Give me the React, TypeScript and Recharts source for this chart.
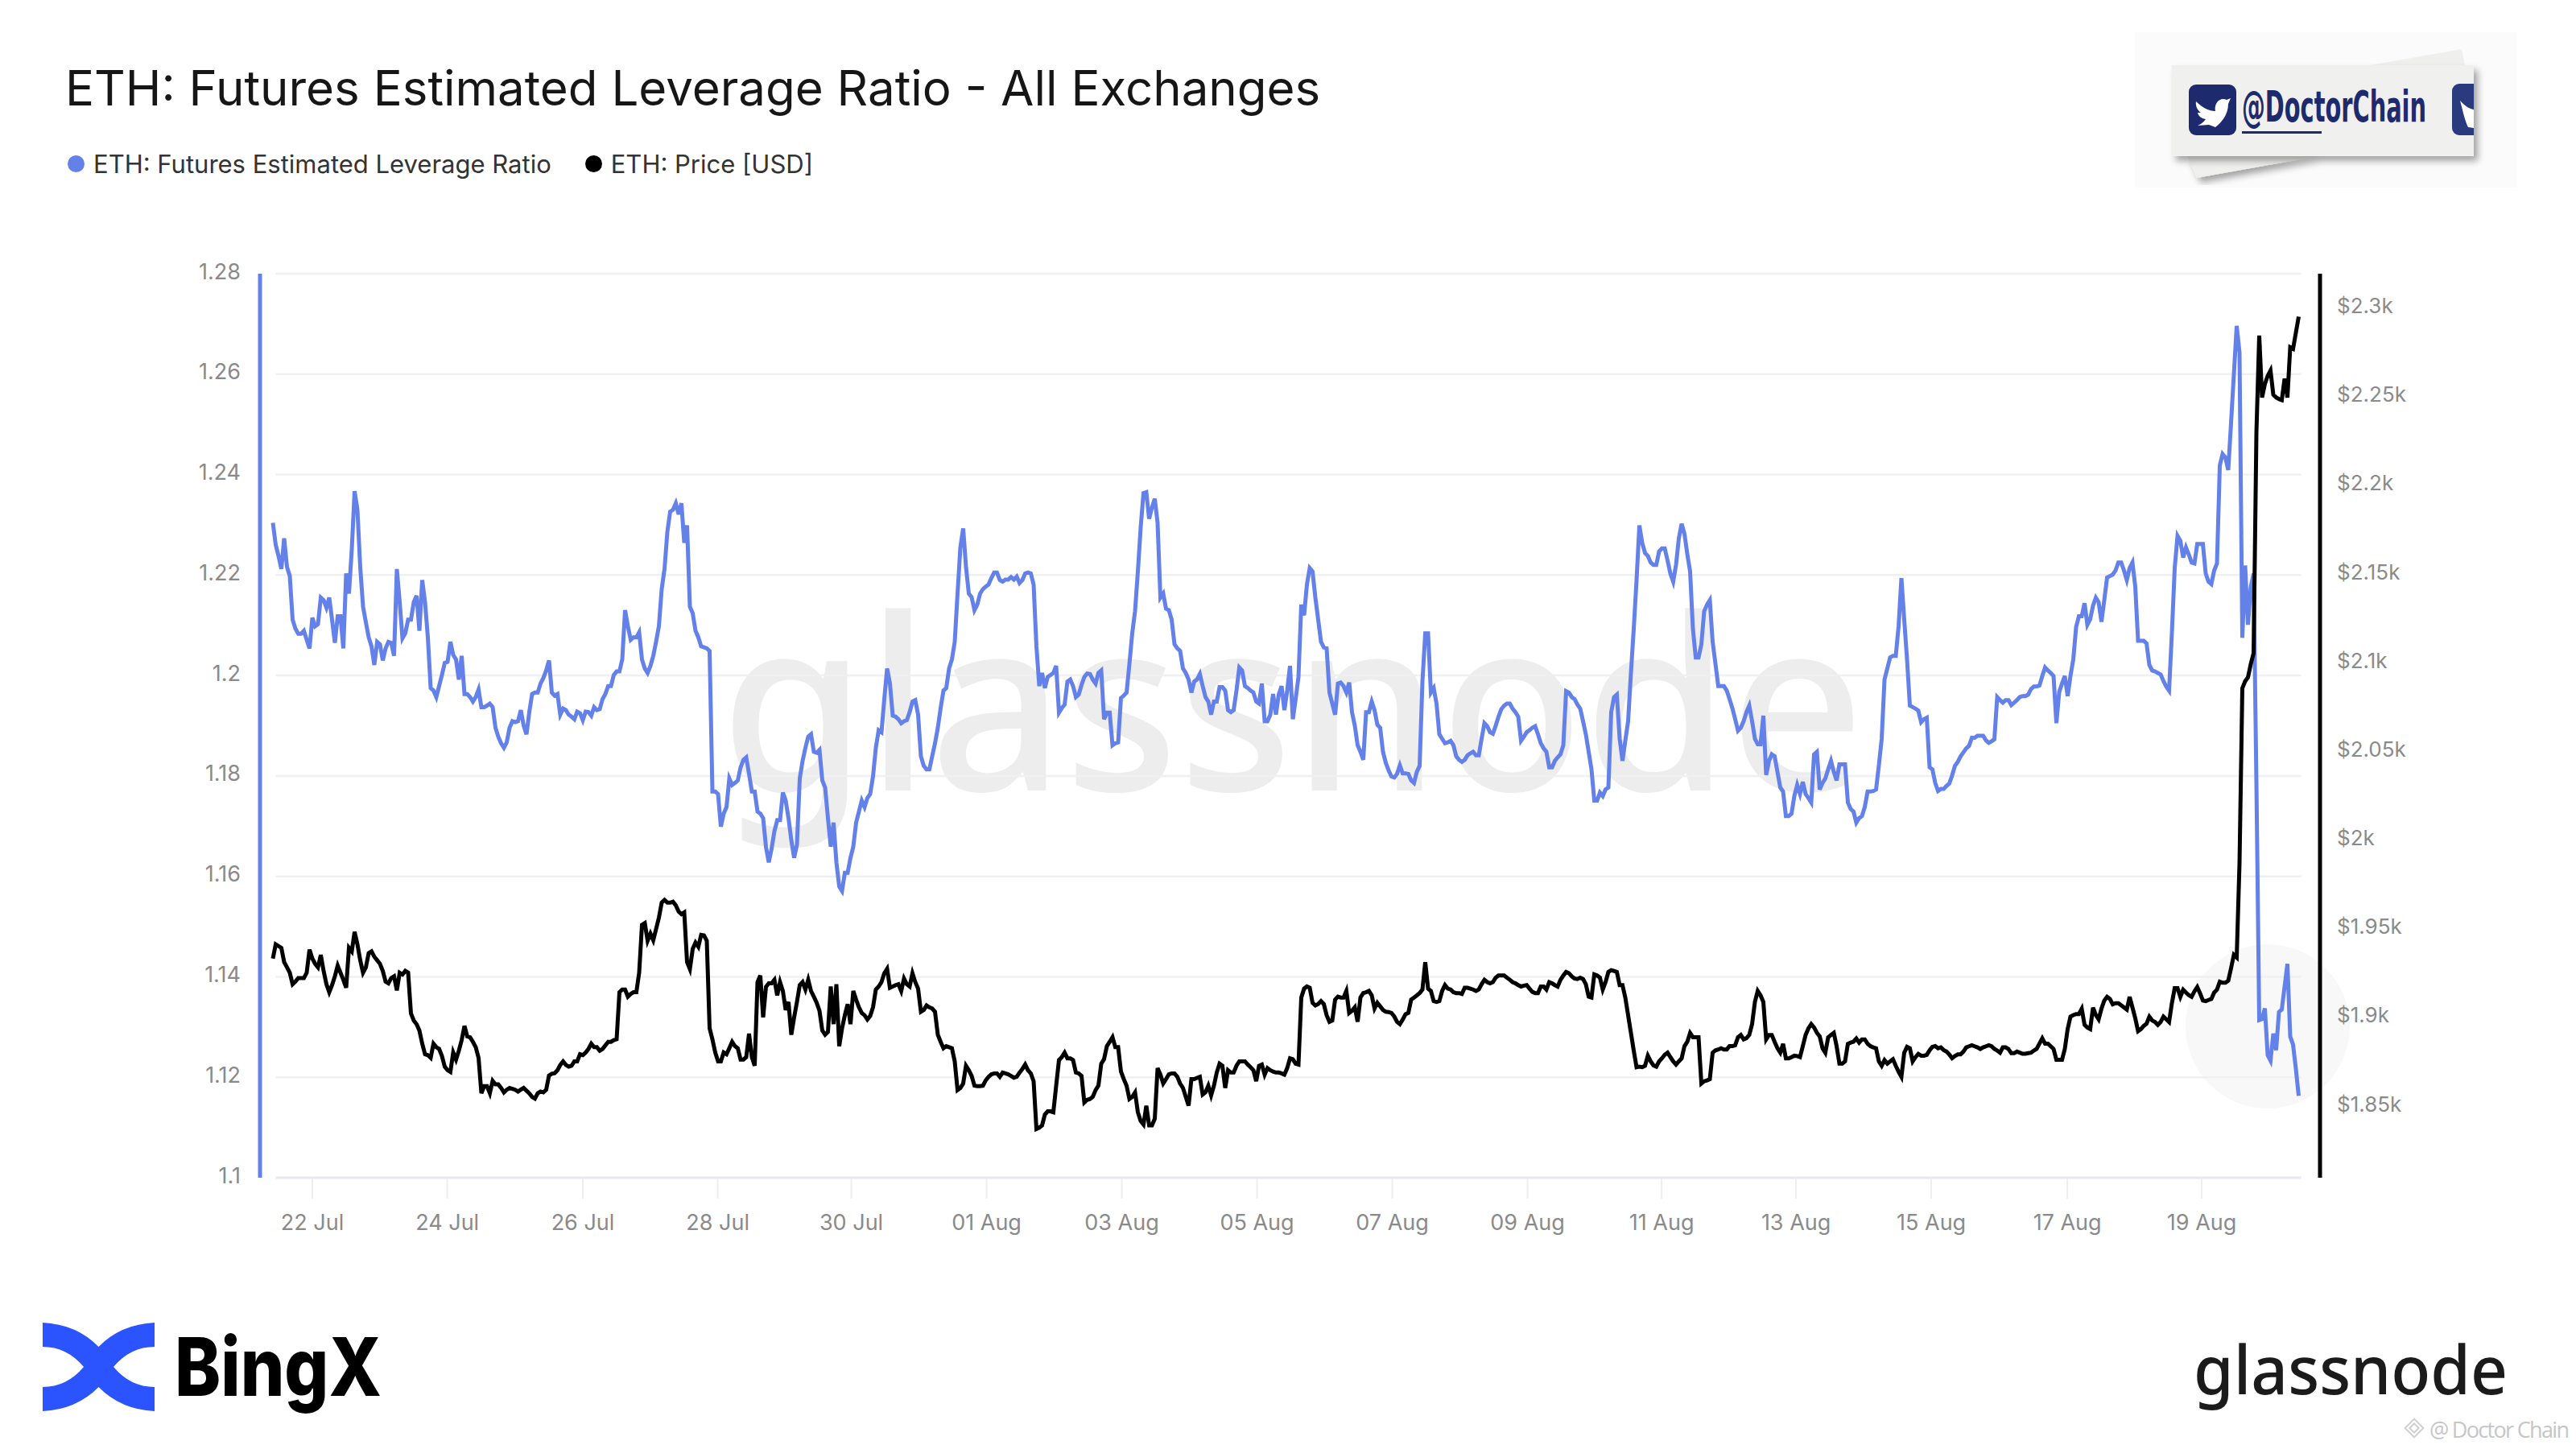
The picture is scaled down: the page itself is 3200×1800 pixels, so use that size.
import { LineChart, Line, XAxis, YAxis, ReferenceLine, Legend } from 'recharts';

// [hours since 22 Jul 00:00, value]
const leverageJul: [number, number][] = [
  [-14,1.2304],[-13,1.2260],[-12,1.2238],[-11,1.2212],[-10,1.2273],[-9,1.2216],[-8,1.2198],[-7,1.2111],[-6,1.2093],[-5,1.2083],
  [-4,1.2083],[-3,1.2089],[-2,1.2071],[-1,1.2054],[0,1.2115],[1,1.2098],[2,1.2102],[3,1.2155],[4,1.2150],[5,1.2135],
  [6,1.2155],[7,1.2111],[8,1.2065],[9,1.2118],[10,1.2118],[11,1.2054],[12,1.2203],[13,1.2163],[14,1.2251],[15,1.2367],
  [16,1.2330],[17,1.2216],[18,1.2137],[19,1.2106],[20,1.2076],[21,1.2058],[22,1.2021],[23,1.2067],[24,1.2062],[25,1.2030],
  [26,1.2054],[27,1.2067],[28,1.2065],[29,1.2039],[30,1.2212],[31,1.2146],[32,1.2074],[33,1.2084],[34,1.2111],[35,1.2111],
  [36,1.2146],[37,1.2159],[38,1.2089],[39,1.2190],[40,1.2146],[41,1.2076],[42,1.1975],[43,1.1970],[44,1.1957],[45,1.1979],
  [46,1.2001],[47,1.2025],[48,1.2027],[49,1.2067],[50,1.2041],[51,1.2032],[52,1.1992],[53,1.2039],[54,1.1963],[55,1.1963],
  [56,1.1957],[57,1.1948],[58,1.1957],[59,1.1972],[60,1.1937],[61,1.1937],[62,1.1940],[63,1.1944],[64,1.1937],[65,1.1896],
  [66,1.1878],[67,1.1865],[68,1.1856],[69,1.1867],[70,1.1896],[71,1.1909],[72,1.1907],[73,1.1909],[74,1.1931],[75,1.1900],
  [76,1.1883],[77,1.1927],[78,1.1963],[79,1.1966],[80,1.1966],[81,1.1984],[82,1.1995],[83,1.2010],[84,1.2030],[85,1.1966],
  [86,1.1960],[87,1.1963],[88,1.1922],[89,1.1934],[90,1.1931],[91,1.1922],[92,1.1918],[93,1.1913],[94,1.1928],[95,1.1925],
  [96,1.1911],[97,1.1928],[98,1.1927],[99,1.1920],[100,1.1937],[101,1.1931],[102,1.1933],[103,1.1953],[104,1.1963],[105,1.1979],
  [106,1.1979],[107,1.2001],[108,1.2008],[109,1.2008],[110,1.2032],[111,1.2130],[112,1.2098],[113,1.2071],[114,1.2076],[115,1.2076],
  [116,1.2086],[117,1.2032],[118,1.2014],[119,1.2005],[120,1.2019],[121,1.2039],[122,1.2067],[123,1.2098],[124,1.2172],[125,1.2212],
  [126,1.2286],[127,1.2326],[128,1.2330],[129,1.2343],[130,1.2321],[131,1.2343],[132,1.2264],[133,1.2299],[134,1.2137],[135,1.2124],
  [136,1.2089],[137,1.2076],[138,1.2058],[139,1.2056],[140,1.2054],[141,1.2049],[142,1.1769],[143,1.1769],[144,1.1764],[145,1.1699],
  [146,1.1725],[147,1.1738],[148,1.1795],[149,1.1782],[150,1.1786],[151,1.1791],[152,1.1817],[153,1.1832],[154,1.1837],[155,1.1804],
  [156,1.1769],[157,1.1769],[158,1.1729],[159,1.1725],[160,1.1716],[161,1.1659],[162,1.1628],[163,1.1655],[164,1.1690],[165,1.1712],
  [166,1.1712],[167,1.1767],[168,1.1751],[169,1.1716],[170,1.1672],[171,1.1637],[172,1.1663],[173,1.1795],[174,1.1830],[175,1.1856],
  [176,1.1878],[177,1.1883],[178,1.1848],[179,1.1846],[180,1.1852],[181,1.1791],[182,1.1777],[183,1.1716],[184,1.1659],[185,1.1707],
  [186,1.1628],[187,1.1580],[188,1.1571],[189,1.1607],[190,1.1607],[191,1.1637],[192,1.1659],[193,1.1707],[194,1.1729],[195,1.1751],
  [196,1.1738],[197,1.1756],[198,1.1764],[199,1.1799],[200,1.1856],[201,1.1891],[202,1.1887],[203,1.1953],[204,1.2014],[205,1.1984],
  [206,1.1920],[207,1.1918],[208,1.1913],[209,1.1905],[210,1.1909],[211,1.1911],[212,1.1927],[213,1.1948],[214,1.1951],[215,1.1922],
  [216,1.1839],[217,1.1820],[218,1.1813],[219,1.1813],[220,1.1839],[221,1.1865],[222,1.1896],[223,1.1935],[224,1.1970],[225,1.1975],
  [226,1.2014],[227,1.2032],[228,1.2067],[229,1.2163],[230,1.2255],[231,1.2293],[232,1.2216],[233,1.2163],[234,1.2156],[235,1.2130],
  [236,1.2141],[237,1.2163],[238,1.2172],[239,1.2177],
];

const leverageAugEarly: [number, number][] = [
  [240,1.2181],[241,1.2194],[242,1.2205],[243,1.2205],[244,1.2190],[245,1.2187],[246,1.2191],[247,1.2191],[248,1.2196],[249,1.2191],
  [250,1.2197],[251,1.2184],[252,1.2190],[253,1.2203],[254,1.2205],[255,1.2203],[256,1.2181],[257,1.2058],[258,1.1979],[259,1.2005],
  [260,1.1975],[261,1.1997],[262,1.2001],[263,1.2005],[264,1.2019],[265,1.1926],[266,1.1935],[267,1.1942],[268,1.1988],[269,1.1992],
  [270,1.1979],[271,1.1957],[272,1.1962],[273,1.1981],[274,1.1997],[275,1.2004],[276,1.2003],[277,1.1992],[278,1.1984],[279,1.2005],
  [280,1.2010],[281,1.1913],[282,1.1926],[283,1.1926],[284,1.1861],[285,1.1865],[286,1.1867],[287,1.1955],[288,1.1960],[289,1.1966],
  [290,1.2023],[291,1.2084],[292,1.2128],[293,1.2207],[294,1.2295],[295,1.2363],[296,1.2365],[297,1.2312],[298,1.2334],[299,1.2352],
  [300,1.2304],[301,1.2155],[302,1.2163],[303,1.2133],[304,1.2130],[305,1.2111],[306,1.2062],[307,1.2054],[308,1.2049],[309,1.2014],
  [310,1.2005],[311,1.1992],[312,1.1966],[313,1.1988],[314,1.1992],[315,1.2003],[316,1.1979],[317,1.1957],[318,1.1948],[319,1.1922],
  [320,1.1948],[321,1.1948],[322,1.1977],[323,1.1977],[324,1.1970],[325,1.1931],[326,1.1927],[327,1.1931],[328,1.1970],[329,1.2016],
  [330,1.2010],[331,1.1979],[332,1.1975],[333,1.1970],[334,1.1966],[335,1.1948],[336,1.1944],[337,1.1984],[338,1.1909],[339,1.1909],
  [340,1.1922],[341,1.1963],[342,1.1922],[343,1.1962],[344,1.1979],[345,1.1931],[346,1.1970],[347,1.2019],[348,1.1913],[349,1.1953],
  [350,1.1997],[351,1.2141],[352,1.2120],[353,1.2181],[354,1.2214],[355,1.2207],[356,1.2155],[357,1.2111],[358,1.2067],[359,1.2056],
  [360,1.2054],[361,1.1966],[362,1.1944],[363,1.1922],[364,1.1984],[365,1.1986],[366,1.1979],[367,1.1966],[368,1.1986],[369,1.1927],
  [370,1.1900],[371,1.1861],[372,1.1848],[373,1.1832],[374,1.1927],[375,1.1927],[376,1.1948],[377,1.1931],[378,1.1902],[379,1.1896],
  [380,1.1848],[381,1.1826],[382,1.1811],[383,1.1799],[384,1.1797],[385,1.1804],[386,1.1821],[387,1.1805],[388,1.1805],[389,1.1804],
  [390,1.1791],[391,1.1786],[392,1.1808],[393,1.1820],[394,1.1988],[395,1.2084],[396,1.2084],[397,1.1966],[398,1.1975],[399,1.1944],
  [400,1.1883],[401,1.1874],[402,1.1865],[403,1.1867],[404,1.1870],[405,1.1861],[406,1.1839],[407,1.1832],[408,1.1828],[409,1.1832],
  [410,1.1841],[411,1.1845],[412,1.1848],[413,1.1841],[414,1.1841],[415,1.1874],[416,1.1905],[417,1.1899],[418,1.1887],[419,1.1884],
  [420,1.1900],[421,1.1918],[422,1.1933],[423,1.1940],[424,1.1944],[425,1.1944],[426,1.1934],[427,1.1927],[428,1.1918],[429,1.1870],
  [430,1.1878],[431,1.1887],
];

const leverageAugMid: [number, number][] = [
  [432,1.1891],[433,1.1896],[434,1.1899],[435,1.1883],[436,1.1865],[437,1.1855],[438,1.1848],[439,1.1817],[440,1.1817],[441,1.1830],
  [442,1.1837],[443,1.1843],[444,1.1861],[445,1.1969],[446,1.1966],[447,1.1957],[448,1.1953],[449,1.1942],[450,1.1934],[451,1.1909],
  [452,1.1883],[453,1.1848],[454,1.1813],[455,1.1751],[456,1.1751],[457,1.1767],[458,1.1760],[459,1.1773],[460,1.1777],[461,1.1927],
  [462,1.1957],[463,1.1962],[464,1.1874],[465,1.1830],[466,1.1870],[467,1.1909],[468,1.2005],[469,1.2093],[470,1.2190],[471,1.2299],
  [472,1.2264],[473,1.2244],[474,1.2238],[475,1.2225],[476,1.2220],[477,1.2220],[478,1.2247],[479,1.2253],[480,1.2253],[481,1.2229],
  [482,1.2203],[483,1.2187],[484,1.2220],[485,1.2273],[486,1.2302],[487,1.2282],[488,1.2242],[489,1.2207],[490,1.2093],[491,1.2036],
  [492,1.2036],[493,1.2062],[494,1.2128],[495,1.2141],[496,1.2150],[497,1.2067],[498,1.2023],[499,1.1979],[500,1.1979],[501,1.1979],
  [502,1.1970],[503,1.1953],[504,1.1935],[505,1.1913],[506,1.1890],[507,1.1896],[508,1.1909],[509,1.1927],[510,1.1940],[511,1.1909],
  [512,1.1874],[513,1.1863],[514,1.1863],[515,1.1920],[516,1.1802],[517,1.1830],[518,1.1843],[519,1.1839],[520,1.1808],[521,1.1777],
  [522,1.1769],[523,1.1720],[524,1.1720],[525,1.1725],[526,1.1760],[527,1.1782],[528,1.1764],[529,1.1788],[530,1.1764],[531,1.1756],
  [532,1.1747],[533,1.1843],[534,1.1848],[535,1.1773],[536,1.1786],[537,1.1795],[538,1.1813],[539,1.1830],[540,1.1808],[541,1.1791],
  [542,1.1823],[543,1.1823],[544,1.1823],[545,1.1747],[546,1.1734],[547,1.1729],[548,1.1707],[549,1.1716],[550,1.1720],[551,1.1738],
  [552,1.1769],[553,1.1769],[554,1.1770],[555,1.1773],[556,1.1821],[557,1.1874],[558,1.1992],[559,1.2014],[560,1.2036],[561,1.2039],
  [562,1.2039],[563,1.2098],[564,1.2194],[565,1.2111],[566,1.2032],[567,1.1940],[568,1.1937],[569,1.1934],[570,1.1930],[571,1.1907],
  [572,1.1913],[573,1.1916],[574,1.1817],[575,1.1813],[576,1.1786],[577,1.1770],
];

const leverageAugLate: [number, number][] = [
  [578,1.1774],[579,1.1774],[580,1.1780],[581,1.1785],[582,1.1801],[583,1.1820],[584,1.1828],[585,1.1839],[586,1.1847],[587,1.1855],
  [588,1.1860],[589,1.1876],[590,1.1876],[591,1.1880],[592,1.1880],[593,1.1880],[594,1.1871],[595,1.1866],[596,1.1869],[597,1.1873],
  [598,1.1957],[599,1.1951],[600,1.1946],[601,1.1951],[602,1.1951],[603,1.1941],[604,1.1946],[605,1.1951],[606,1.1957],[607,1.1959],
  [608,1.1959],[609,1.1962],[610,1.1973],[611,1.1978],[612,1.1978],[613,1.1980],[614,1.1999],[615,1.2016],[616,1.2010],[617,1.2005],
  [618,1.1999],[619,1.1905],[620,1.1967],[621,1.1984],[622,1.1999],[623,1.1959],[624,1.1999],[625,1.2032],[626,1.2096],[627,1.2118],
  [628,1.2118],[629,1.2144],[630,1.2101],[631,1.2112],[632,1.2139],[633,1.2155],[634,1.2146],[635,1.2107],[636,1.2150],[637,1.2195],
  [638,1.2198],[639,1.2201],[640,1.2209],[641,1.2225],[642,1.2225],[643,1.2209],[644,1.2190],[645,1.2214],[646,1.2225],[647,1.2177],
  [648,1.2069],[649,1.2069],[650,1.2069],[651,1.2064],[652,1.2021],[653,1.2010],[654,1.2008],[655,1.2005],[656,1.2002],[657,1.1989],
  [658,1.1978],[659,1.1970],[660,1.2085],[661,1.2214],[662,1.2278],[663,1.2268],[664,1.2235],[665,1.2255],[666,1.2241],[667,1.2225],
  [668,1.2223],[669,1.2262],[670,1.2262],[671,1.2262],[672,1.2203],[673,1.2187],[674,1.2182],[675,1.2209],[676,1.2223],[677,1.2418],
  [678,1.2441],[679,1.2434],[680,1.2409],[681,1.2503],[682,1.2600],[683,1.2696],[684,1.2643],[685,1.2075],[686,1.2219],[687,1.2101],
  [688,1.2176],[689,1.2203],[690,1.1785],[691,1.1314],[692,1.1316],[693,1.1337],[694,1.1244],[695,1.1233],[696,1.1287],[697,1.1254],
  [698,1.1330],[699,1.1335],[701,1.1426],[702,1.1281],[703,1.1265],[704,1.1217],[705,1.1163],
];

const priceJul: [number, number][] = [
  [-14,1932],[-13,1940],[-12,1939],[-11,1938],[-10,1930],[-9,1927],[-8,1924],[-7,1917.5],[-6,1919],[-5,1921],
  [-4,1921],[-3,1921],[-2,1924],[-1,1937],[0,1932],[1,1929],[2,1927],[3,1934],[4,1925],[5,1917.5],
  [6,1913],[7,1917],[8,1922],[9,1928],[10,1924],[11,1920],[12,1915.5],[13,1938],[14,1936],[15,1947],
  [16,1940],[17,1931],[18,1924],[19,1927],[20,1935],[21,1936],[22,1933],[23,1931],[24,1929],[25,1925],
  [26,1919],[27,1918],[28,1921],[29,1922],[30,1914],[31,1924],[32,1923],[33,1925],[34,1924],[35,1901],
  [36,1897],[37,1895],[38,1891.4],[39,1884],[40,1878],[41,1877.5],[42,1876],[43,1884],[44,1882],[45,1881],
  [46,1877],[47,1871],[48,1869],[49,1868],[50,1879],[51,1875],[52,1880],[53,1886],[54,1894],[55,1888],
  [56,1887.5],[57,1885],[58,1882],[59,1876],[60,1856],[61,1860],[62,1860],[63,1856],[64,1863],[65,1861],
  [66,1861],[67,1859],[68,1856.5],[69,1858],[70,1859],[71,1858.5],[72,1858],[73,1857],[74,1858],[75,1859],
  [76,1857.5],[77,1856],[78,1854],[79,1853],[80,1856],[81,1857],[82,1856.5],[83,1858],[84,1866],[85,1867],
  [86,1867.3],[87,1869],[88,1872],[89,1874],[90,1872],[91,1871],[92,1871.5],[93,1874],[94,1874],[95,1878],
  [96,1877.5],[97,1879],[98,1881],[99,1884],[100,1882],[101,1882],[102,1880],[103,1881],[104,1883],[105,1885],
  [106,1885],[107,1886],[108,1886.5],[109,1913],[110,1914.5],[111,1914.5],[112,1910.5],[113,1912],[114,1913],[115,1913],
  [116,1924],[117,1951],[118,1952],[119,1942],[120,1946],[121,1942.3],[122,1948.6],[123,1955],[124,1963.5],[125,1965],
  [126,1963.5],[127,1963.5],[128,1964],[129,1962],[130,1958.5],[131,1957],[132,1958],[133,1930],[134,1926],[135,1937.4],
  [136,1941],[137,1938.6],[138,1945.3],[139,1945],[140,1942],[141,1892.6],[142,1886.4],[143,1879],[144,1874],[145,1874],
  [146,1879],[147,1878],[148,1881.4],[149,1885],[150,1882.6],[151,1881.4],[152,1875],[153,1875],[154,1876.4],[155,1889.6],
  [156,1876.4],[157,1871.5],[158,1918.7],[159,1922.4],[160,1898.8],[161,1916],[162,1918],[163,1918],[164,1920],[165,1911.2],
  [166,1918.7],[167,1913.7],[168,1903],[169,1907.5],[170,1889],[171,1898.8],[172,1907.5],[173,1917],[174,1918.7],[175,1914.5],
  [176,1920],[177,1913.7],[178,1910.5],[179,1907],[180,1902.5],[181,1891.4],[182,1889],[183,1890.6],[184,1916.2],[185,1895],
  [186,1917.5],[187,1882.6],[188,1892.6],[189,1900],[190,1906.3],[191,1895],[192,1913.7],[193,1908.8],[194,1904.5],[195,1901.3],
  [196,1900],[197,1897.6],[198,1899.6],[199,1904.5],[200,1914.5],[201,1916.2],[202,1918.7],[203,1923.7],[204,1926.2],[205,1915.5],
  [206,1916.2],[207,1917],[208,1917.5],[209,1913.7],[210,1920.7],[211,1917.5],[212,1916.2],[213,1923.7],[214,1918.7],[215,1915],
  [216,1902],[217,1903],[218,1905.5],[219,1904.5],[220,1903.8],[221,1902],[222,1889],[223,1885],[224,1881.4],[225,1882.6],
  [226,1882],[227,1881.4],[228,1874],[229,1857.8],[230,1859],[231,1861.5],[232,1871.5],[233,1869],[234,1865.8],[235,1860.3],
  [236,1860],[237,1860],[238,1860.3],[239,1863.3],
];

const priceAugEarly: [number, number][] = [
  [240,1865.3],[241,1866.7],[242,1867.2],[243,1867.2],[244,1865.3],[245,1867.7],[246,1867.2],[247,1866.7],[248,1865.8],[249,1864.8],
  [250,1865.3],[251,1867.7],[252,1869.7],[253,1872.2],[254,1869],[255,1867.2],[256,1862.8],[257,1835.9],[258,1836.6],[259,1837.9],
  [260,1844],[261,1845.8],[262,1845.8],[263,1845.3],[264,1860.3],[265,1874.7],[266,1876.4],[267,1878.9],[268,1875.7],[269,1875.7],
  [270,1874.7],[271,1867.7],[272,1867.2],[273,1865.8],[274,1850.8],[275,1852.3],[276,1852.8],[277,1854],[278,1857.8],[279,1860.3],
  [280,1872.7],[281,1875.2],[282,1882.6],[283,1885],[284,1887.6],[285,1882],[286,1882],[287,1868.2],[288,1864],[289,1860.3],
  [290,1852.8],[291,1854],[292,1856.5],[293,1845.3],[294,1840.4],[295,1838.4],[296,1849],[297,1837.9],[298,1837.9],[299,1841.6],
  [300,1870.2],[301,1866.5],[302,1861.5],[303,1864],[304,1866.7],[305,1867.2],[306,1867.2],[307,1865.3],[308,1861.5],[309,1859],
  [310,1854],[311,1849],[312,1864],[313,1864],[314,1864.7],[315,1865.3],[316,1855.3],[317,1856.5],[318,1860.3],[319,1854.8],
  [320,1860.3],[321,1867.7],[322,1872.7],[323,1871.5],[324,1859],[325,1869],[326,1867.7],[327,1867.7],[328,1871.5],[329,1874],
  [330,1874],[331,1874],[332,1872.2],[333,1870.7],[334,1869],[335,1862.8],[336,1871.5],[337,1872.2],[338,1866.5],[339,1870.2],
  [340,1869],[341,1868.2],[342,1867.7],[343,1867.7],[344,1867.2],[345,1866.5],[346,1870.2],[347,1875.7],[348,1875.2],[349,1872.7],
  [350,1872.2],[351,1910],[352,1915],[353,1916.2],[354,1915.5],[355,1907],[356,1905.5],[357,1906.3],[358,1908],[359,1906.3],
  [360,1900],[361,1896.3],[362,1897],[363,1908.8],[364,1910.5],[365,1910],[366,1910],[367,1913.7],[368,1901.3],[369,1902.5],
  [370,1904.5],[371,1896.3],[372,1910],[373,1912.5],[374,1913],[375,1913.7],[376,1911.2],[377,1903.8],[378,1907],[379,1905],
  [380,1903],[381,1902],[382,1901.8],[383,1901.3],[384,1899.3],[385,1896.3],[386,1895],[387,1897.6],[388,1900.6],[389,1901.3],
  [390,1908.8],[391,1910],[392,1911.2],[393,1912.5],[394,1914.5],[395,1929.9],[396,1915],[397,1913.7],[398,1908],[399,1907.5],
  [400,1908],[401,1913.7],[402,1917],[403,1915],[404,1914.5],[405,1913],[406,1912.5],[407,1912.5],[408,1912],[409,1915.5],
  [410,1915.5],[411,1915],[412,1914.5],[413,1913.7],[414,1914.5],[415,1917.5],[416,1920],[417,1918.7],[418,1918],[419,1918.7],
  [420,1921.2],[421,1922.4],[422,1922.4],[423,1922.4],[424,1921.2],[425,1920],[426,1918.7],[427,1918],[428,1917],[429,1916.2],
  [430,1916.7],[431,1917],
];

const priceAugMid: [number, number][] = [
  [432,1915],[433,1913.2],[434,1912.5],[435,1912.5],[436,1916.2],[437,1916.2],[438,1914.5],[439,1918.7],[440,1918],[441,1917],
  [442,1916.2],[443,1920],[444,1922.4],[445,1924.4],[446,1923.7],[447,1921.9],[448,1920.7],[449,1920.4],[450,1921.2],[451,1920.4],
  [452,1917.5],[453,1910.5],[454,1910],[455,1923],[456,1922.4],[457,1921.2],[458,1914.5],[459,1918.7],[460,1924.4],[461,1925.4],
  [462,1925],[463,1924.4],[464,1917],[465,1917],[466,1910],[467,1900],[468,1890],[469,1880],[470,1870.7],[471,1871],
  [472,1870.7],[473,1871.5],[474,1877.2],[475,1874],[476,1871.7],[477,1871],[478,1874],[479,1875.7],[480,1877.7],[481,1878.9],
  [482,1876.4],[483,1874],[484,1872.2],[485,1874],[486,1875.7],[487,1882.6],[488,1885],[489,1890],[490,1887.6],[491,1887.6],
  [492,1887.6],[493,1861.5],[494,1862.8],[495,1863.3],[496,1864],[497,1878.9],[498,1880.2],[499,1880.7],[500,1881.4],[501,1880.7],
  [502,1880.7],[503,1882.6],[504,1882.6],[505,1883.1],[506,1887.6],[507,1888.9],[508,1886.4],[509,1887.1],[510,1888.9],[511,1895],
  [512,1907.5],[513,1913.7],[514,1911.2],[515,1907.5],[516,1886.4],[517,1888.9],[518,1888.9],[519,1885],[520,1881.4],[521,1878.9],
  [522,1883.9],[523,1875.7],[524,1875.7],[525,1876.4],[526,1877.2],[527,1877],[528,1876.4],[529,1882.6],[530,1888.9],[531,1892.6],
  [532,1895],[533,1893.1],[534,1890.1],[535,1888.1],[536,1881.4],[537,1878.9],[538,1887.6],[539,1888.9],[540,1890.1],[541,1882.6],
  [542,1872.7],[543,1872.7],[544,1874],[545,1883.9],[546,1884.6],[547,1885.1],[548,1886.9],[549,1884.6],[550,1886.4],[551,1886.4],
  [552,1883.9],[553,1882.6],[554,1881.9],[555,1881.4],[556,1874],[557,1871.5],[558,1874.7],[559,1872.7],[560,1874],[561,1875.2],
  [562,1871.5],[563,1868.2],[564,1865.3],[565,1878.9],[566,1882.2],[567,1881.4],[568,1874],[569,1876.4],[570,1878.2],[571,1877.2],
  [572,1877.2],[573,1877.7],[574,1880.2],[575,1882.2],[576,1882.6],[577,1881.4],
];

const priceAugLate: [number, number][] = [
  [578,1881.9],[579,1880.4],[580,1879.5],[581,1877.9],[582,1875.8],[583,1877],[584,1877.9],[585,1877.9],[586,1879.5],[587,1881.9],
  [588,1882.5],[589,1883.1],[590,1882.5],[591,1881.9],[592,1881],[593,1881.9],[594,1882.5],[595,1883.1],[596,1882.5],[597,1881],
  [598,1880.1],[599,1878.9],[600,1881.9],[601,1881.9],[602,1881],[603,1878.6],[604,1878.6],[605,1879.5],[606,1878.9],[607,1878.3],
  [608,1878.3],[609,1878.6],[610,1878.9],[611,1880.1],[612,1881],[613,1884],[614,1887],[615,1884],[616,1884],[617,1882.5],
  [618,1881],[619,1874.9],[620,1874.9],[621,1874.9],[622,1881],[623,1892.2],[624,1899.2],[625,1900.1],[626,1900.7],[627,1900.7],
  [628,1903.7],[629,1894.6],[630,1893.1],[631,1892.2],[632,1904.3],[633,1900.1],[634,1897.7],[635,1903.7],[636,1908.3],[637,1910.4],
  [638,1909.2],[639,1906.2],[640,1906.8],[641,1906.8],[642,1905.6],[643,1904.4],[644,1903.2],[645,1910.4],[646,1904.4],[647,1898.3],
  [648,1891],[649,1892.2],[650,1894],[651,1895.2],[652,1899.2],[653,1897.1],[654,1896.2],[655,1894.6],[656,1896.2],[657,1899.2],
  [658,1897.7],[659,1896.2],[660,1906.8],[661,1915.3],[662,1915.3],[663,1910.4],[664,1914.4],[665,1912.8],[666,1911.3],[667,1910.4],
  [668,1913.5],[669,1915.9],[670,1912.3],[671,1908.3],[672,1908],[673,1908.6],[674,1909.2],[675,1912.8],[676,1914.4],[677,1918.9],
  [678,1918.3],[679,1918.3],[680,1919.5],[681,1926.5],[682,1934.1],[683,1932.6],[684,1985.7],[685,2084.4],[686,2088.3],[687,2090.5],
  [688,2098],[689,2104.1],[690,2228.6],[691,2283.2],[692,2248.3],[693,2255.9],[694,2260.5],[695,2263.5],[696,2249.9],[697,2248.3],
  [698,2247.4],[699,2246.8],[700,2259],[701,2248.3],[702,2276.6],[703,2275.7],[704,2284.8],[705,2293.9],
];

const leverageTicks = [1.1, 1.12, 1.14, 1.16, 1.18, 1.2, 1.22, 1.24, 1.26, 1.28];
const priceTicks = [1850, 1900, 1950, 2000, 2050, 2100, 2150, 2200, 2250, 2300];
const dateTicks = [0, 47.9, 96, 143.9, 191.3, 239.3, 287.3, 335.3, 383.3, 431.3, 478.9, 526.6, 574.6, 622.9, 670.6];
const dateLabels = ['22 Jul', '24 Jul', '26 Jul', '28 Jul', '30 Jul', '01 Aug', '03 Aug', '05 Aug', '07 Aug', '09 Aug', '11 Aug', '13 Aug', '15 Aug', '17 Aug', '19 Aug'];

const BLUE = '#6480e9';
const FONT = 'Inter, sans-serif';

function toRows(points: [number, number][]) {
  return points.map(([hour, value]) => ({ hour, value }));
}

const leverageRows = toRows([...leverageJul, ...leverageAugEarly, ...leverageAugMid, ...leverageAugLate]);
const priceRows = toRows([...priceJul, ...priceAugEarly, ...priceAugMid, ...priceAugLate]);

function formatPrice(v: number) {
  return `$${(v / 1000).toString()}k`;
}

function formatDate(v: number) {
  return dateLabels[dateTicks.indexOf(v)];
}

function ChartLegend({ payload }: any) {
  return (
    <div style={{ display: 'flex', fontFamily: FONT, fontSize: 31, color: '#333', alignItems: 'center' }}>
      {(payload ?? []).map((p: any, i: number) => (
        <span key={p.value} style={{ display: 'flex', alignItems: 'center', marginRight: i === 0 ? 42 : 0 }}>
          <span style={{ width: 21, height: 21, borderRadius: '50%', background: p.color, marginRight: 11 }} />
          {p.value}
        </span>
      ))}
    </div>
  );
}

function Backdrop() {
  return (
    <svg width={3200} height={1800} style={{ position: 'absolute', left: 0, top: 0 }}>
      <text x={895} y={982} fontFamily='"Noto Sans", sans-serif' fontWeight={500} fontSize={298} fill="#ededed" textLength={1421} lengthAdjust="spacingAndGlyphs">glassnode</text>
      <circle cx={2817} cy={1275} r={102} fill="#f8f8f8" />
    </svg>
  );
}

function Branding() {
  return (
    <svg width={3200} height={1800} style={{ position: 'absolute', left: 0, top: 0, pointerEvents: 'none' }}>
      <defs>
        <filter id="paperShadow" x="-10%" y="-20%" width="120%" height="150%">
          <feDropShadow dx="5" dy="6" stdDeviation="4" floodColor="#000" floodOpacity="0.35" />
        </filter>
        <clipPath id="paperClip"><rect x={2698} y={81} width={375} height={113} /></clipPath>
      </defs>
      {/* sticker */}
      <rect x={2652} y={40} width={474} height={193} fill="#fbfbfb" />
      <polygon points="2717,194 2729,221 2880,194" fill="#efefed" filter="url(#paperShadow)" />
      <polygon points="2944,81 3058,61 3062,81" fill="#efefed" />
      <rect x={2698} y={81} width={375} height={113} fill="#f0f0ee" filter="url(#paperShadow)" />
      <rect x={2719} y={105} width={59} height={63} rx={9} fill="#1d2b6e" />
      <path d="M2728 126 C2736 134 2744 138 2752 138 C2750 128 2758 120 2766 124 L2771 122 L2768 129 C2768 142 2760 152 2752 158 L2744 155 L2730 156 C2736 153 2738 151 2740 148 C2734 147 2731 144 2730 140 L2734 140 C2730 137 2727 132 2728 126 Z" fill="#ffffff" />
      <text x={2785} y={151} fontFamily='"Liberation Sans Narrow", "DejaVu Sans Condensed", sans-serif' fontWeight={700} fontSize={54} fill="#1d2b6e" textLength={229} lengthAdjust="spacingAndGlyphs">@DoctorChain</text>
      <rect x={2785} y={163} width={99} height={3} fill="#1d2b6e" />
      <g clipPath="url(#paperClip)">
        <rect x={3046} y={104} width={59} height={64} rx={9} fill="#2a3a7e" />
        <path d="M3056 125 C3064 134 3070 136 3080 138 L3080 160 L3066 158 C3062 150 3060 140 3056 125 Z" fill="#ffffff" />
      </g>
      {/* BingX */}
      <path d="M53 1643 Q95 1645 122.5 1673 Q150 1645 192 1643 L192 1673 Q162 1673 141 1698 Q162 1723 192 1723 L192 1753 Q150 1751 122.5 1723 Q95 1751 53 1753 L53 1723 Q83 1723 104 1698 Q83 1673 53 1673 Z" fill="#2b54ff" />
      <text x={217} y={1734} fontFamily="Inter, sans-serif" fontWeight={800} fontSize={100} fill="#000" textLength={257} lengthAdjust="spacingAndGlyphs">BingX</text>
      {/* glassnode */}
      <text x={2725} y={1732} fontFamily='"Noto Sans", sans-serif' fontWeight={500} fontSize={84} fill="#1b1b1b" textLength={390} lengthAdjust="spacingAndGlyphs">glassnode</text>
      {/* watermark */}
      <g fill="none" stroke="#cfcfcf" strokeWidth={2}>
        <rect x={2991} y={1766} width={16} height={16} transform="rotate(45 2999 1774)" />
        <rect x={2995} y={1770} width={8} height={8} transform="rotate(45 2999 1774)" />
      </g>
      <text x={3018} y={1786} fontFamily='"Open Sans", sans-serif' fontSize={27} fill="#c6c6c6" textLength={174}>@ Doctor Chain</text>
    </svg>
  );
}

export default function App() {
  return (
    <div style={{ position: 'absolute', left: 0, top: 0, width: 3200, height: 1800, background: '#fff', overflow: 'hidden' }}>
      <Backdrop />
      <div style={{ position: 'absolute', left: 81, top: 70, fontFamily: FONT, fontSize: 60, color: '#161616', whiteSpace: 'nowrap', lineHeight: '78px' }}>
        ETH: Futures Estimated Leverage Ratio - All Exchanges
      </div>
      <div style={{ position: 'absolute', left: 0, top: 0 }}>
        <LineChart width={3200} height={1800} margin={{ top: 340, right: 0, bottom: 240, left: 0 }}>
          <XAxis
            xAxisId="time" dataKey="hour" type="number" domain={[-18.57, 712.57]} ticks={dateTicks} interval={0}
            tickFormatter={formatDate} height={60} axisLine={false} tickSize={26} tickMargin={20}
            tickLine={{ stroke: '#edeef2', strokeWidth: 2 }}
            tick={{ fontSize: 27, fontFamily: FONT, fill: '#8a8a8a' }} allowDataOverflow
          />
          <YAxis
            yAxisId="lev" domain={[1.1, 1.28]} ticks={leverageTicks} interval={0} width={323} tickSize={0} tickMargin={24}
            axisLine={{ stroke: BLUE, strokeWidth: 5 }} allowDataOverflow
            tick={{ fontSize: 27, fontFamily: FONT, fill: '#8a8a8a', dy: -3 }}
          />
          <YAxis
            yAxisId="usd" orientation="right" domain={[1808.4, 2318.1]} ticks={priceTicks} interval={0} width={318} tickSize={0} tickMargin={21}
            axisLine={{ stroke: '#000', strokeWidth: 5 }} tickFormatter={formatPrice} allowDataOverflow
            tick={{ fontSize: 26, fontFamily: FONT, fill: '#8a8a8a' }}
          />
          {leverageTicks.map(t => (
            <ReferenceLine
              key={t} xAxisId="time" yAxisId="lev" stroke={t === 1.1 ? '#e8e9ef' : '#eff0f3'} strokeWidth={t === 1.1 ? 3 : 2.5}
              segment={[{ x: -13, y: t }, { x: 705.9, y: t }]}
            />
          ))}
          <Line
            xAxisId="time" yAxisId="lev" data={leverageRows} dataKey="value" name="ETH: Futures Estimated Leverage Ratio"
            type="linear" stroke={BLUE} strokeWidth={5} dot={false} isAnimationActive={false}
          />
          <Line
            xAxisId="time" yAxisId="usd" data={priceRows} dataKey="value" name="ETH: Price [USD]"
            type="linear" stroke="#000" strokeWidth={5} dot={false} isAnimationActive={false}
          />
          <Legend content={<ChartLegend />} wrapperStyle={{ position: 'absolute', left: 84, top: 185, width: 'auto' }} />
        </LineChart>
      </div>
      <Branding />
    </div>
  );
}
